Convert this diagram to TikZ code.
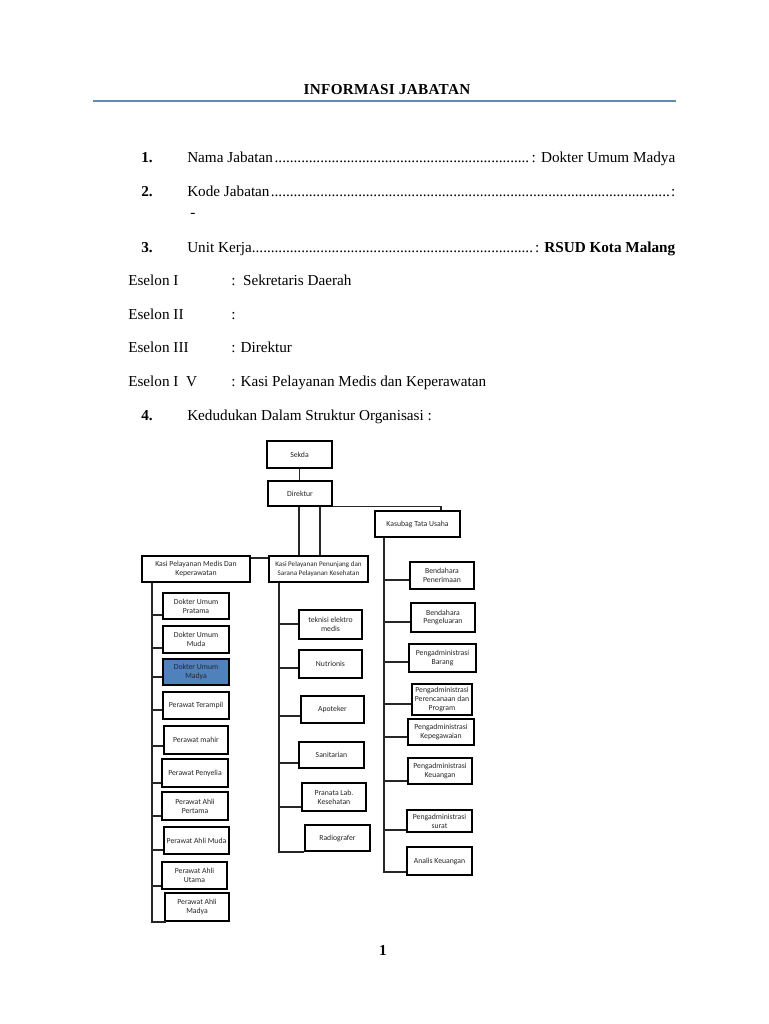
\documentclass[tikz,border=0pt]{standalone}
\usepackage{fontspec}
\setmainfont{Liberation Serif}
\newfontfamily\boxfont{Carlito}
\usetikzlibrary{calc}
\definecolor{rulec}{RGB}{96,138,178}
\definecolor{hl}{RGB}{79,129,189}
\tikzset{
 orgbox/.style={draw=black, line width=1.3pt, fill=white, inner sep=0pt, align=center, text=black!85, font=\boxfont\fontsize{5.8}{6.6}\selectfont},
 conn/.style={draw=black!85, line width=0.8pt},
 body/.style={anchor=base west, inner sep=0pt, font=\fontsize{11.4}{13}\selectfont},
 num/.style={anchor=base west, inner sep=0pt, font=\bfseries\fontsize{11.4}{13}\selectfont},
}
\newcommand\bx[7][]{\node[orgbox,#1,minimum width={(#5-#3)*0.75pt},minimum height={(#6-#4)*0.75pt}] (#2) at ({(#3+#5)/2},{(#4+#6)/2}) {#7};}
\newcommand\tk[3]{\path (0,#3) coordinate (ty); \draw[conn] (#1.west |- ty) -- (#2 |- ty);}
\begin{document}
\begin{tikzpicture}[x=0.75pt,y=-0.75pt]
\useasboundingbox[fill=white] (0,0) rectangle (768,1024);
% header
\node[anchor=base, inner sep=0pt, font=\bfseries\fontsize{11.4}{13}\selectfont\addfontfeature{LetterSpace=2}] (title) at (387,94) {INFORMASI JABATAN};
\draw[rulec, line width=0.9pt] (93,101) -- (676,101);
% items
\node[num] (n1) at (141,162) {1.};
\node[body] (t1) at (187,162) {\hbox to 366pt{Nama Jabatan\leaders\hbox{.}\hfill: Dokter Umum Madya}};
\node[num] (n2) at (141,196) {2.};
\node[body] (t2) at (187,196) {\hbox to 366pt{Kode Jabatan\leaders\hbox{.}\hfill:}};
\node[body] (t2b) at (190,217) {-};
\node[num] (n3) at (141,252) {3.};
\node[body] (t3) at (187,252) {\hbox to 366pt{Unit Kerja\leaders\hbox{.}\hfill: \textbf{RSUD Kota Malang}}};
\node[body] (e1) at (128,285) {Eselon I};
\node[body] (e1v) at (231,285) {:\ \ Sekretaris Daerah};
\node[body] (e2) at (128,319) {Eselon II};
\node[body] (e2v) at (231,319) {:};
\node[body] (e3) at (128,352) {Eselon III};
\node[body] (e3v) at (231,352) {: Direktur};
\node[body] (e4) at (128,386) {Eselon I\ \ V};
\node[body] (e4v) at (231,386) {: Kasi Pelayanan Medis dan Keperawatan};
\node[num] (n4) at (141,420) {4.};
\node[body] (t4) at (187,420) {Kedudukan Dalam Struktur Organisasi :};
\node[anchor=base, inner sep=0pt, font=\bfseries\fontsize{11.4}{13}\selectfont] (pg) at (383,955) {1};
% org chart boxes
\bx{sek}{267}{441}{332}{468}{Sekda}
\bx{dir}{268}{481}{332}{506}{Direktur}
\bx{ksb}{375}{511}{460}{537}{Kasubag Tata Usaha}
\bx{kmd}{142}{556}{250}{582}{Kasi Pelayanan Medis Dan\\Keperawatan}
\bx[font=\boxfont\fontsize{5.3}{6.4}\selectfont]{kpn}{269}{556}{368}{582}{Kasi Pelayanan Penunjang dan\\Sarana Pelayanan Kesehatan}
% column 1
\bx{c1}{163}{593}{229}{619}{Dokter Umum\\Pratama}
\bx{c2}{163}{626}{229}{653}{Dokter Umum\\Muda}
\bx[fill=hl]{c3}{163}{659}{229}{685}{Dokter Umum\\Madya}
\bx{c4}{163}{692}{229}{719}{Perawat Terampil}
\bx{c5}{164}{726}{228}{754}{Perawat mahir}
\bx{c6}{162}{759}{228}{787}{Perawat Penyelia}
\bx{c7}{162}{792}{228}{820}{Perawat Ahli\\Pertama}
\bx{c8}{164}{827}{229}{854}{Perawat Ahli Muda}
\bx{c9}{162}{862}{227}{889}{Perawat Ahli\\Utama}
\bx{c10}{165}{893}{229}{921}{Perawat Ahli\\Madya}
% column 2
\bx{p1}{299}{610}{362}{639}{teknisi elektro\\medis}
\bx{p2}{299}{650}{362}{678}{Nutrionis}
\bx{p3}{301}{696}{364}{723}{Apoteker}
\bx{p4}{299}{742}{364}{768}{Sanitarian}
\bx{p5}{302}{783}{366}{811}{Pranata Lab.\\Kesehatan}
\bx{p6}{305}{825}{370}{851}{Radiografer}
% column 3
\bx{k1}{410}{562}{474}{589}{Bendahara\\Penerimaan}
\bx{k2}{411}{603}{475}{632}{Bendahara\\Pengeluaran}
\bx{k3}{409}{644}{476}{672}{Pengadministrasi\\Barang}
\bx{k4}{412}{684}{472}{715}{Pengadministrasi\\Perencanaan dan\\Program}
\bx{k5}{408}{719}{474}{745}{Pengadministrasi\\Kepegawaian}
\bx{k6}{408}{758}{472}{784}{Pengadministrasi\\Keuangan}
\bx[line width=0.9pt]{k7}{407}{810}{472}{832}{Pengadministrasi\\surat}
\bx{k8}{407}{847}{472}{875}{Analis Keuangan}
% connectors
\draw[conn] (sek.south) -- (sek.south |- dir.north);
\draw[conn] (dir.south east) -| ($(ksb.north)+(23.5,0)$);
\path (299,0) coordinate (d1) (320,0) coordinate (d2) (0,558) coordinate (hy);
\draw[conn, line width=1.1pt] (dir.south -| d1) -- (kpn.north -| d1);
\draw[conn, line width=1.1pt] (dir.south -| d2) -- (kpn.north -| d2);
\draw[conn] (kmd.east |- hy) -- (kpn.west |- hy);
\path (152,0) coordinate (mv) (279,0) coordinate (pv) (384,0) coordinate (kv);
\coordinate (mend) at (166,922);
\draw[conn, line width=1.1pt] (kmd.south -| mv) |- (mend);
\draw[conn, line width=1.1pt] (kpn.south -| pv) |- (p6.south west);
\draw[conn, line width=1.1pt] (ksb.south -| kv) |- ($(k8.south west)+(0,-4)$);
\tk{c1}{mv}{615}\tk{c2}{mv}{648}\tk{c3}{mv}{677}\tk{c4}{mv}{710}\tk{c5}{mv}{746}
\tk{c6}{mv}{783}\tk{c7}{mv}{816}\tk{c8}{mv}{850}\tk{c9}{mv}{886}
\tk{p1}{pv}{624}\tk{p2}{pv}{668}\tk{p3}{pv}{716}\tk{p4}{pv}{763}\tk{p5}{pv}{807}
\tk{k1}{kv}{580}\tk{k2}{kv}{622}\tk{k3}{kv}{662}\tk{k4}{kv}{704}\tk{k5}{kv}{737}
\tk{k6}{kv}{781}\tk{k7}{kv}{830}
\end{tikzpicture}
\end{document}
